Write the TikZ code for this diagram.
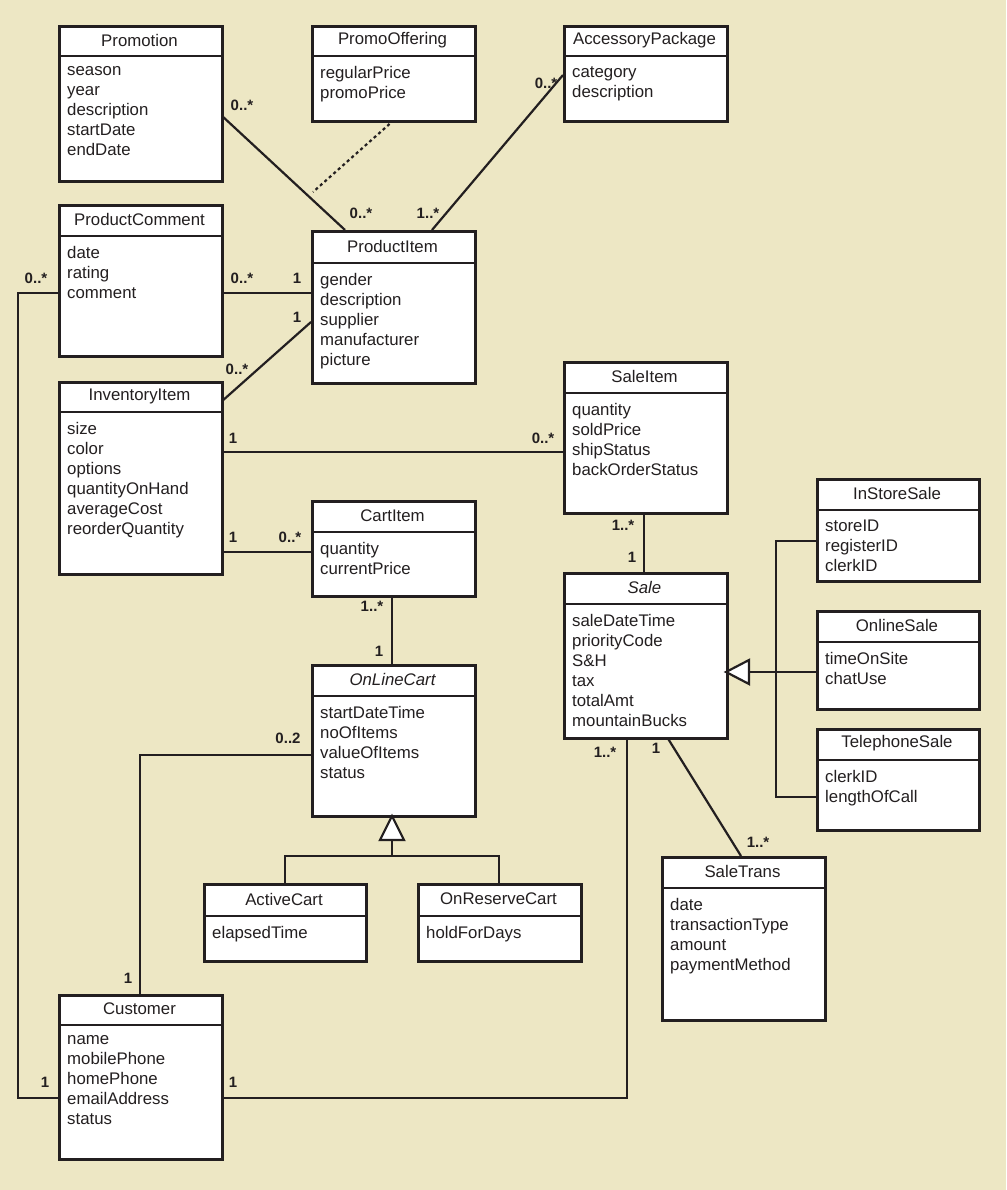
\documentclass[tikz,border=0pt]{standalone}
\usepackage{fontspec}
\setmainfont{Liberation Sans}
\begin{document}
\begin{tikzpicture}[x=1pt,y=-1pt,
  box/.style={draw=ink,line width=2.8pt,fill=white,anchor=north west,inner sep=0},
  ln/.style={line width=2.2pt,draw=ink},
  ttl/.style={font=\fontsize{16.8}{20}\selectfont,inner sep=0,text=ink},
  att/.style={font=\fontsize{16.8}{20}\selectfont,anchor=north west,align=left,inner sep=0,text=ink},
  ml/.style={font=\fontsize{15}{16}\selectfont\bfseries,inner sep=0,text=ink},
  tri/.style={draw=ink,line width=2.2pt,fill=white}]
\definecolor{bg}{RGB}{237,231,196}
\definecolor{ink}{RGB}{35,31,32}
\fill[bg] (0,0) rectangle (1006,1190);
\useasboundingbox (0,0) rectangle (1006,1190);
\newcommand{\umlbox}[8]{%
  \node[box,minimum width=#4-#2,minimum height=#5-#3] (#1) at (#2,#3) {};
  \draw[line width=2.8pt,draw=ink] (#2,#6) -- (#4,#6);
  \node[ttl] (#1t) at ({(#2+#4)/2},{(#3+#6)/2-0.5}) {#7};
  \node[att] (#1a) at (#2+9,#6+10) {#8};}
% connectors first
\draw[ln] (221,115) -- (345,230);
\draw[ln,dash pattern=on 3pt off 3pt] (394,120) -- (313,192);
\draw[ln] (563,75) -- (432,230);
\draw[ln] (221,293) -- (311,293);
\draw[ln] (221,402) -- (311,322);
\draw[ln] (221,452) -- (563,452);
\draw[ln] (221,552) -- (311,552);
\draw[ln] (392,595) -- (392,664);
\draw[ln] (644,512) -- (644,572);
\draw[ln] (749,672) -- (816,672);
\draw[ln] (816,541) -- (776,541) -- (776,797) -- (816,797);
\draw[ln] (667,737) -- (741,856);
\draw[ln] (392,840) -- (392,856);
\draw[ln] (285,883) -- (285,856) -- (499,856) -- (499,883);
\draw[ln] (311,755) -- (140,755) -- (140,994);
\draw[ln] (58,293) -- (18,293) -- (18,1098) -- (58,1098);
\draw[ln] (221,1098) -- (627,1098) -- (627,737);
% boxes
\umlbox{promotion}{58}{25}{221}{180}{56}{Promotion}{season\\year\\description\\startDate\\endDate}
\umlbox{promooffering}{311}{25}{474}{120}{56}{PromoOffering}{regularPrice\\promoPrice}
\umlbox{accessory}{563}{25}{726}{120}{56}{AccessoryPackage}{category\\description}
\umlbox{comment}{58}{204}{221}{355}{236}{ProductComment}{date\\rating\\comment}
\umlbox{productitem}{311}{230}{474}{382}{263}{ProductItem}{gender\\description\\supplier\\manufacturer\\picture}
\umlbox{inventory}{58}{381}{221}{573}{412}{InventoryItem}{size\\color\\options\\quantityOnHand\\averageCost\\reorderQuantity}
\umlbox{saleitem}{563}{361}{726}{512}{393}{SaleItem}{quantity\\soldPrice\\shipStatus\\backOrderStatus}
\umlbox{cartitem}{311}{500}{474}{595}{532}{CartItem}{quantity\\currentPrice}
\umlbox{instore}{816}{478}{978}{580}{510}{InStoreSale}{storeID\\registerID\\clerkID}
\umlbox{sale}{563}{572}{726}{737}{604}{\itshape Sale}{saleDateTime\\priorityCode\\S\&H\\tax\\totalAmt\\mountainBucks}
\umlbox{onlinecart}{311}{664}{474}{815}{696}{\itshape OnLineCart}{startDateTime\\noOfItems\\valueOfItems\\status}
\umlbox{onlinesale}{816}{610}{978}{708}{642}{OnlineSale}{timeOnSite\\chatUse}
\umlbox{telsale}{816}{728}{978}{829}{760}{TelephoneSale}{clerkID\\lengthOfCall}
\umlbox{saletrans}{661}{856}{824}{1019}{888}{SaleTrans}{date\\transactionType\\amount\\paymentMethod}
\umlbox{activecart}{203}{883}{365}{960}{916}{ActiveCart}{elapsedTime}
\umlbox{reservecart}{417}{883}{580}{960}{916}{OnReserveCart}{holdForDays}
\umlbox{customer}{58}{994}{221}{1158}{1025}{Customer}{name\\mobilePhone\\homePhone\\emailAddress\\status}
% generalization triangles
\draw[tri] (726,672) -- (749,660) -- (749,684) -- cycle;
\draw[tri] (392,816) -- (380,840) -- (404,840) -- cycle;
% multiplicities
\node[ml] at (242,105) {0..*};
\node[ml] at (361,213) {0..*};
\node[ml] at (546,83) {0..*};
\node[ml] at (428,213) {1..*};
\node[ml] at (242,278) {0..*};
\node[ml] at (297,278) {1};
\node[ml] at (237,369) {0..*};
\node[ml] at (297,317) {1};
\node[ml] at (233,438) {1};
\node[ml] at (543,438) {0..*};
\node[ml] at (233,537) {1};
\node[ml] at (290,537) {0..*};
\node[ml] at (372,606) {1..*};
\node[ml] at (379,651) {1};
\node[ml] at (623,525) {1..*};
\node[ml] at (632,557) {1};
\node[ml] at (656,748) {1};
\node[ml] at (758,842) {1..*};
\node[ml] at (288,738) {0..2};
\node[ml] at (128,978) {1};
\node[ml] at (36,278) {0..*};
\node[ml] at (45,1082) {1};
\node[ml] at (233,1082) {1};
\node[ml] at (605,752) {1..*};
\end{tikzpicture}
\end{document}
